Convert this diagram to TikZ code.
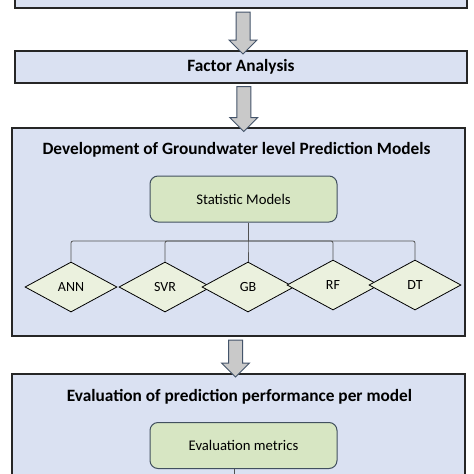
\documentclass[tikz,border=0pt]{standalone}
\usepackage{fontspec}
\setmainfont{Carlito}
\usepackage{tikz}
\usetikzlibrary{shapes.geometric,shapes.arrows,calc}

\definecolor{panelfill}{HTML}{DAE1F2}
\definecolor{panelline}{HTML}{262626}
\definecolor{modelfill}{HTML}{D7E6C3}
\definecolor{modelline}{HTML}{41505F}
\definecolor{algofill}{HTML}{EBF1DE}
\definecolor{arrowfill}{HTML}{C9C9C9}
\definecolor{arrowline}{HTML}{44546A}

\tikzset{
  panel/.style={draw=panelline, fill=panelfill, line width=1.2pt, minimum width=452pt, inner sep=0pt},
  model/.style={draw=modelline, fill=modelfill, line width=1pt, rounded corners=8pt, minimum width=187pt, minimum height=46pt, font=\fontsize{14.7}{16}\selectfont},
  algo/.style={diamond, draw=black, fill=algofill, line width=0.8pt, minimum width=92pt, minimum height=50pt, aspect=1.8, inner sep=0pt, font=\fontsize{14}{16}\selectfont},
  flowarrow/.style={single arrow, draw=arrowline, fill=arrowfill, line width=1pt, rotate=-90, inner sep=6.5pt, single arrow head extend=7pt, single arrow tip angle=90},
  title/.style={font=\bfseries\fontsize{17.3}{19}\selectfont},
  bus/.style={draw=panelline!80, line width=0.8pt, rounded corners=2pt}
}

\begin{document}
\begin{tikzpicture}[x=1pt,y=-1pt]
	\useasboundingbox (0,0) rectangle (474,474);
	\clip (0,0) rectangle (474,474);
	\fill[white] (0,0) rectangle (474,474);

	% panels
	\node[panel, minimum height=40pt] (top) at (241,-12) {};
	\node[panel, minimum height=32pt, title] (factor) at (241,67) {Factor Analysis};
	\node[panel, minimum width=453pt, minimum height=208pt] (devel) at (238.5,232) {};
	\node[panel, minimum width=453pt, minimum height=130pt] (evalp) at (238.5,439) {};

	% arrows between panels
	\node[flowarrow, minimum height=42pt] (arr1) at ($(top.south)!0.5!(factor.north)+(2,0)$) {};
	\node[flowarrow, minimum height=45pt] (arr2) at ($(factor.south)!0.5!(devel.north)+(4,0)$) {};
	\node[flowarrow, minimum height=37pt] (arr3) at ($(devel.south)!0.5!(evalp.north)+(-3,0)$) {};

	% model development
	\node[title] (develtitle) at (236.5,150) {Development of Groundwater level Prediction Models};
	\node[model] (stat) at (243.5,199) {Statistic Models};
	\coordinate (hub) at (248,241);
	\node[algo] (ann) at (71,287) {ANN};
	\node[algo] (svr) at (165,287) {SVR};
	\node[algo] (gb) at (248,287) {GB};
	\node[algo] (rf) at (333,285) {RF};
	\node[algo] (dt) at (415,285) {DT};
	\draw[bus] ([xshift=4.5pt]stat.south) -- (hub);
	\foreach \m in {ann,svr,gb,rf,dt}
		\draw[bus] (hub) -| (\m.north);

	% evaluation
	\node[title] (evaltitle) at (239.5,397) {Evaluation of prediction performance per model};
	\node[model] (metric) at (243.5,445.5) {Evaluation metrics};
	\coordinate (metricend) at (234,490);
	\draw[bus] (metric.south -| metricend) -- (metricend);
\end{tikzpicture}
\end{document}
